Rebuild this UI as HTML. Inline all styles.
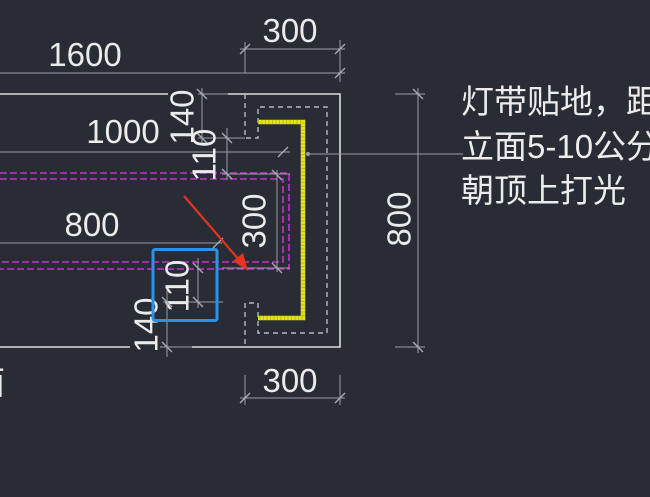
<!DOCTYPE html>
<html>
<head>
<meta charset="utf-8">
<style>
html,body{margin:0;padding:0;background:#282c34;}
body{width:650px;height:497px;overflow:hidden;}
svg{display:block;}
.num{font-family:"Liberation Sans","Noto Sans CJK SC",sans-serif;font-size:33px;fill:#ebebeb;}
.cn{font-family:"Liberation Sans","Noto Sans CJK SC",sans-serif;font-size:33px;fill:#ececec;}
.dim{stroke:#9a9ea5;stroke-width:1;fill:none;}
.tk{stroke:#a9adb3;stroke-width:1.3;}
.wall{stroke:#dcdcdc;stroke-width:1.6;fill:none;}
.dash{stroke:#b5b9bf;stroke-width:1.4;fill:none;stroke-dasharray:5 4;}
.mag{stroke:#c431c8;stroke-width:1.6;fill:none;stroke-dasharray:7 3;}
</style>
</head>
<body>
<svg width="650" height="497" viewBox="0 0 650 497" xmlns="http://www.w3.org/2000/svg">
<rect width="650" height="497" fill="#282c34"/>

<!-- magenta dashed double line -->
<path class="mag" d="M0,173 H289 V269 H0"/>
<path class="mag" d="M0,179 H283 V262 H0"/>

<!-- outer wall lines -->
<path class="wall" d="M0,94 H168"/>
<path class="wall" d="M228,94 H340 V347 H192"/>
<path class="wall" d="M0,347 H130"/>

<!-- dashed inner shape -->
<path class="dash" d="M245,94 V138 H258 V107 H327 V333 H258 V303 H245 V347"/>

<!-- yellow strip -->
<path d="M258,122 H303 V318 H258" stroke="#e4e41a" stroke-width="4.5" fill="none"/>
<path d="M258,122 H303 V318 H258" stroke="#9c9c10" stroke-width="4.5" fill="none" stroke-dasharray="1 2.5" opacity="0.55"/>

<!-- leader line -->
<line class="dim" x1="308" y1="154" x2="463" y2="154"/>
<circle cx="308" cy="154" r="2" fill="#9a9ea5"/>

<!-- top 300 dim -->
<line class="dim" x1="240" y1="49" x2="345" y2="49"/>
<line class="dim" x1="245" y1="42" x2="245" y2="73"/>
<line class="dim" x1="340" y1="40" x2="340" y2="82"/>
<line class="tk" x1="240" y1="54" x2="250" y2="44"/>
<line class="tk" x1="335" y1="54" x2="345" y2="44"/>
<text class="num" x="290" y="42" text-anchor="middle">300</text>

<!-- 1600 dim -->
<line class="dim" x1="0" y1="73" x2="345" y2="73"/>
<line class="tk" x1="335" y1="78" x2="345" y2="68"/>
<text class="num" x="85" y="66" text-anchor="middle">1600</text>

<!-- 1000 dim -->
<line class="dim" x1="0" y1="152" x2="290" y2="152"/>
<line class="tk" x1="278" y1="157" x2="288" y2="147"/>
<text class="num" x="123" y="143" text-anchor="middle">1000</text>

<!-- 800 dim -->
<line class="dim" x1="0" y1="243" x2="222" y2="243"/>
<line class="tk" x1="213" y1="248" x2="223" y2="238"/>
<text class="num" x="92" y="236" text-anchor="middle">800</text>

<!-- top 140 dim -->
<line class="dim" x1="202" y1="88" x2="202" y2="145"/>
<line class="dim" x1="198" y1="94" x2="228" y2="94"/>
<line class="tk" x1="197" y1="89" x2="207" y2="99"/>
<line class="tk" x1="197" y1="133" x2="207" y2="143"/>
<text class="num" transform="translate(182,117) rotate(-90)" text-anchor="middle" dominant-baseline="central">140</text>

<!-- top 110 dim -->
<line class="dim" x1="227" y1="128" x2="227" y2="180"/>
<line class="dim" x1="198" y1="138" x2="245" y2="138"/>
<line class="dim" x1="222" y1="174" x2="290" y2="174"/>
<line class="tk" x1="222" y1="133" x2="232" y2="143"/>
<line class="tk" x1="222" y1="169" x2="232" y2="179"/>
<text class="num" transform="translate(204,155) rotate(-90)" text-anchor="middle" dominant-baseline="central">110</text>

<!-- vertical 300 dim -->
<line class="dim" x1="277" y1="170" x2="277" y2="272"/>
<line class="dim" x1="222" y1="268" x2="290" y2="268"/>
<line class="tk" x1="272" y1="170" x2="282" y2="180"/>
<line class="tk" x1="272" y1="263" x2="282" y2="273"/>
<text class="num" transform="translate(254,221) rotate(-90)" text-anchor="middle" dominant-baseline="central">300</text>

<!-- lower 110 dim -->
<line class="dim" x1="198" y1="258" x2="198" y2="308"/>
<line class="dim" x1="163" y1="302" x2="223" y2="302"/>
<line class="tk" x1="193" y1="263" x2="203" y2="273"/>
<line class="tk" x1="193" y1="297" x2="203" y2="307"/>
<text class="num" transform="translate(177,286) rotate(-90)" text-anchor="middle" dominant-baseline="central">110</text>

<!-- lower 140 dim -->
<line class="dim" x1="167" y1="290" x2="167" y2="357"/>
<line class="dim" x1="160" y1="347" x2="192" y2="347"/>
<line class="tk" x1="162" y1="297" x2="172" y2="307"/>
<line class="tk" x1="162" y1="342" x2="172" y2="352"/>
<text class="num" transform="translate(146,325) rotate(-90)" text-anchor="middle" dominant-baseline="central">140</text>

<!-- right 800 dim -->
<line class="dim" x1="418" y1="88" x2="418" y2="353"/>
<line class="dim" x1="395" y1="94" x2="425" y2="94"/>
<line class="dim" x1="395" y1="347" x2="425" y2="347"/>
<line class="tk" x1="413" y1="89" x2="423" y2="99"/>
<line class="tk" x1="413" y1="342" x2="423" y2="352"/>
<text class="num" transform="translate(399,219) rotate(-90)" text-anchor="middle" dominant-baseline="central">800</text>

<!-- bottom 300 dim -->
<line class="dim" x1="240" y1="398" x2="345" y2="398"/>
<line class="dim" x1="245" y1="375" x2="245" y2="405"/>
<line class="dim" x1="340" y1="375" x2="340" y2="405"/>
<line class="tk" x1="240" y1="403" x2="250" y2="393"/>
<line class="tk" x1="335" y1="403" x2="345" y2="393"/>
<text class="num" x="290" y="392" text-anchor="middle">300</text>

<!-- blue highlight box -->
<rect x="153" y="249.5" width="64" height="71" rx="2" fill="none" stroke="#2e91e3" stroke-width="3"/>

<!-- red arrow -->
<line x1="184" y1="196" x2="240" y2="261" stroke="#e5341f" stroke-width="2.2"/>
<polygon points="248,271 233,261 243,253" fill="#e5341f"/>

<!-- Chinese note -->
<text class="cn" x="461" y="113">灯带贴地，距</text>
<text class="cn" x="461" y="158">立面5-10公分</text>
<text class="cn" x="461" y="202">朝顶上打光</text>

<!-- partial text bottom-left -->
<text class="cn" x="-28" y="394">面</text>
</svg>
</body>
</html>
